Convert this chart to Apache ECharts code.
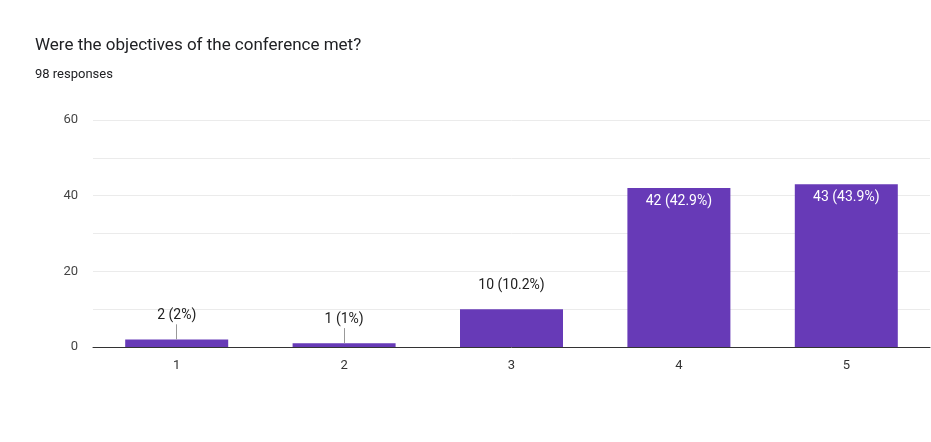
<!DOCTYPE html>
<html><head><meta charset="utf-8">
<script src="https://cdn.jsdelivr.net/npm/echarts@6/dist/echarts.min.js"></script>
<style>html,body{margin:0;padding:0;background:#fff}#c{width:931px;height:442px}</style>
</head><body><div id="c"></div>
<script>
const categories = ['1','2','3','4','5'];
const counts = [2, 1, 10, 42, 43];
const labels = ['2 (2%)','1 (1%)','10 (10.2%)','42 (42.9%)','43 (43.9%)'];
const yTicks = [0, 20, 40, 60];

const chart = echarts.init(document.getElementById('c'));
const data = counts.map((v, i) => {
  const small = v < 15;
  return {
    value: v,
    label: small
      ? {position: 'top', distance: 17, color: '#222', fontSize: 14}
      : {position: 'insideTop', distance: 6, color: '#fff', fontSize: 14}
  };
});
const leader = [];
counts.forEach((v, i) => { if (v < 5) leader.push([{coord: [i, v]}, {coord: [i, v + 4]}]); });
chart.setOption({
  title: [
    {text: 'Were the objectives of the conference met?', left: 30, top: 32,
     textStyle: {fontSize: 17, fontWeight: 'normal', color: '#202124', fontFamily: 'Roboto'}},
    {text: '98 responses', left: 30, top: 63,
     textStyle: {fontSize: 13, fontWeight: 'normal', color: '#202124', fontFamily: 'Roboto'}}
  ],
  grid: {left: 93, right: 1, top: 120, bottom: 95},
  xAxis: {type: 'category', data: categories,
    axisLine: {lineStyle: {color: '#333'}}, axisTick: {show: false},
    axisLabel: {color: '#333', fontSize: 13, margin: 12, fontFamily: 'Roboto'}},
  yAxis: {type: 'value', min: 0, max: 60, interval: 10,
    axisLabel: {color: '#444', fontSize: 13, margin: 15, fontFamily: 'Roboto',
      formatter: v => yTicks.includes(v) ? String(v) : ''},
    splitLine: {lineStyle: {color: '#ebebeb'}}},
  series: [{type: 'bar', data: data, barWidth: 103, itemStyle: {color: '#673ab7'},
    label: {show: true, fontFamily: 'Roboto', formatter: p => labels[p.dataIndex]},
    markLine: {silent: true, symbol: 'none', label: {show: false},
      lineStyle: {color: '#999', type: 'solid', width: 1}, data: leader}
  }],
  animation: false
});
</script></body></html>
